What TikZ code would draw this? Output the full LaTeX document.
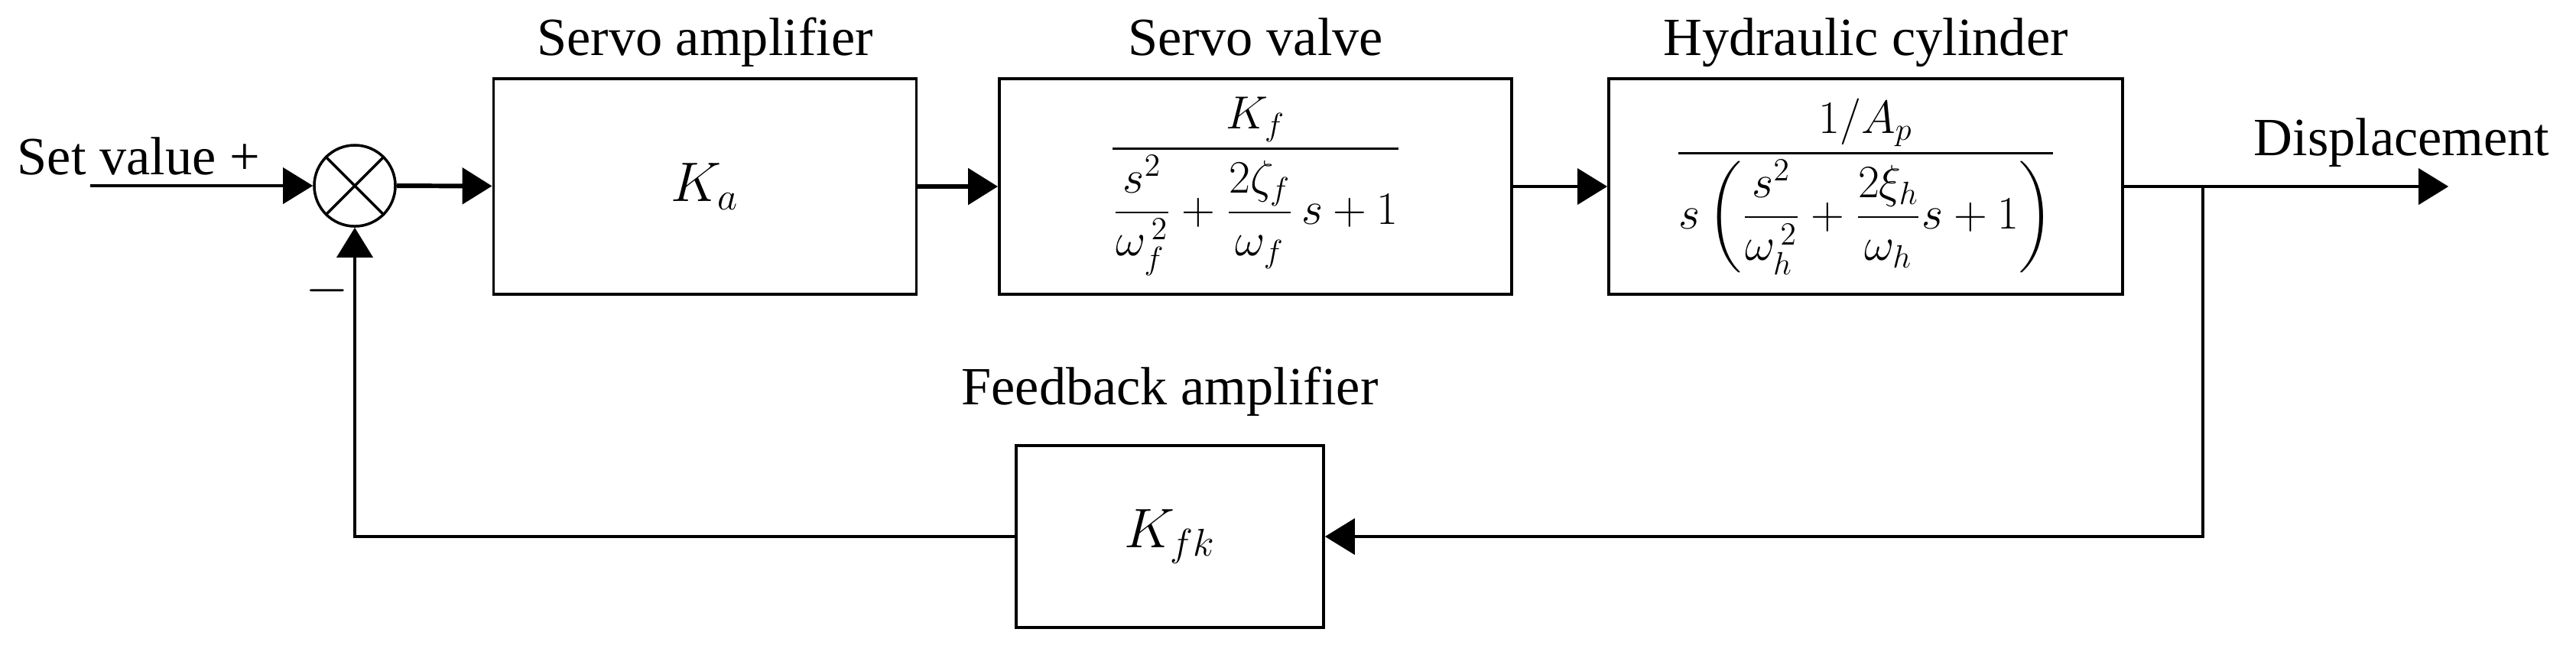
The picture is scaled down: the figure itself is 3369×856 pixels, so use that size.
\documentclass[tikz,border=0pt]{standalone}
\usepackage{amsmath}
\usepackage{fontspec}
\setmainfont{Liberation Serif}
\usetikzlibrary{arrows.meta,positioning}
\tikzset{
  block/.style = {draw, rectangle, line width=1pt, inner sep=0pt, align=center},
  title/.style = {font=\fontsize{20}{24}\selectfont, inner sep=0pt, text depth=0.15cm},
  sum/.style   = {draw, circle, line width=1pt, minimum size=1.06cm, inner sep=0pt},
  line/.style  = {line width=1.1pt},
  heavy/.style = {line width=1.7pt},
  gain/.style  = {font=\fontsize{22}{26}\selectfont},
  tf/.style    = {font=\fontsize{18}{22}\selectfont}
}

\begin{document}
\begin{tikzpicture}[x=0.01cm, y=-0.01cm,
  >={Triangle[length=0.39cm,width=0.47cm]}]
\useasboundingbox (0,0) rectangle (3369,856);

% forward path
\node[sum] (sum) at (464,243) {};
\draw[line width=1pt] (sum.45) -- (sum.225) (sum.135) -- (sum.315);
\node[block, gain, minimum width=5.53cm, minimum height=2.82cm] (amp) at (922,244) {$K_a$};
\node[block, tf, minimum width=6.70cm, minimum height=2.82cm] (valve) at (1642,244)
  {$\dfrac{K_f}{\dfrac{s^2}{\omega_f^{\,2}}+\dfrac{2\zeta_f}{\omega_f}\,s+1}$};
\node[block, tf, minimum width=6.72cm, minimum height=2.82cm] (hyd) at (2440,244)
  {$\dfrac{1/A_p}{s\left(\dfrac{s^2}{\omega_h^{\,2}}+\dfrac{2\xi_h}{\omega_h}s+1\right)}$};

% feedback path
\node[block, gain, minimum width=4.02cm, minimum height=2.38cm] (fb) at (1530,702) {$K_{fk}$};

% titles
\node[title, above=0.13cm of amp] (ampt) {Servo amplifier};
\node[title, above=0.13cm of valve] (valvet) {Servo valve};
\node[title, above=0.13cm of hyd] (hydt) {Hydraulic cylinder};
\node[title, above=0.36cm of fb] (fbt) {Feedback amplifier};
\node[title, anchor=base west] (setv) at (22,228) {Set value +};
\node[title, anchor=base] (disp) at (3141,203) {Displacement};
\node[font=\fontsize{20}{24}\selectfont, inner sep=0pt] (minus) at (428,380) {$-$};

\coordinate (in) at (118,243);
\coordinate (split) at ([xshift=1.03cm]hyd.east);
\coordinate (out) at ([xshift=4.24cm]hyd.east);

% connectors
\draw[line, ->] (in) -- (sum);
\draw[heavy, ->] (sum) -- (amp);
\draw[heavy, ->] (amp) -- (valve);
\draw[line, ->] (valve) -- (hyd);
\draw[line, ->] (hyd) -- (out);
\draw[line, ->] (split) |- (fb);
\draw[line, ->] (fb) -| (sum);

\end{tikzpicture}
\end{document}
